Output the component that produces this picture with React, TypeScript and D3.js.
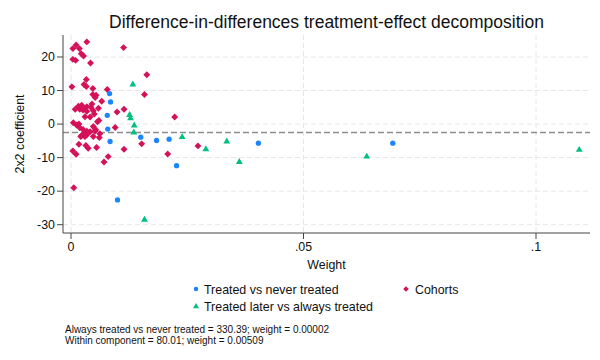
import React from 'react';
import * as d3 from 'd3';

// 2x2 estimates
const tvnWeight = [0.0083, 0.0085, 0.0078, 0.0079, 0.0084, 0.015, 0.0184, 0.0211, 0.0227, 0.01, 0.0403, 0.0692];
const tvnEstimate = [9.1, 6.6, 2.6, -1.5, -5.2, -3.9, -4.9, -4.5, -12.4, -22.6, -5.7, -5.7];

const tlaWeight = [0.0133, 0.0126, 0.0128, 0.0136, 0.0135, 0.0158, 0.0239, 0.029, 0.0335, 0.0362, 0.0636, 0.1093];
const tlaEstimate = [11.8, 2.7, 1.7, -0.4, -2.5, -28.5, -3.9, -7.5, -5.2, -11.3, -9.7, -7.7];

const cohortWeight = [
  0.0034, 0.0011, 0.0004, 0.0018, 0.0022, 0.0027, 0.0004, 0.001, 0.0042, 0.0113, 0.0163, 0.0158,
  0.0033, 0.0028, 0.0033, 0.0002, 0.0047, 0.0078, 0.0047, 0.0054, 0.0052, 0.0066, 0.0045, 0.0059,
  0.0043, 0.0034, 0.0023, 0.0016, 0.0009, 0.0019, 0.0026, 0.003, 0.0034, 0.0048, 0.005, 0.003,
  0.0041, 0.006, 0.0099, 0.0114, 0.0223, 0.0005, 0.0012, 0.0017, 0.0019, 0.0026, 0.0034, 0.0041,
  0.003, 0.0052, 0.0062, 0.0048, 0.0057, 0.0034, 0.0023, 0.0021, 0.003, 0.0048, 0.0061, 0.0095,
  0.0152, 0.0114, 0.0208, 0.0273, 0.0017, 0.0032, 0.0037, 0.0055, 0.0004, 0.0011, 0.008, 0.0071,
  0.0006, 0.0053,
];
const cohortEstimate = [
  24.5, 23.6, 22.5, 22.5, 21.0, 20.3, 19.3, 19.0, 18.2, 22.8, 14.7, 8.8,
  13.3, 11.8, 11.2, 11.1, 10.6, 10.3, 8.8, 8.6, 7.9, 6.8, 6.0, 4.7,
  5.0, 5.2, 5.6, 5.3, 4.4, 4.4, 4.2, 4.6, 3.8, 4.0, 3.0, 2.2,
  2.1, 1.1, 3.6, 4.4, 2.1, 0.4, -0.3, 0.0, -1.1, -1.6, -2.1, -2.3,
  -2.6, -2.1, -2.9, -0.7, 0.7, -3.2, -3.4, -3.7, -3.7, -3.7, -4.0, -1.0,
  -5.9, -7.5, -8.9, -6.5, -6.0, -6.4, -7.2, -7.0, -8.0, -9.0, -9.7, -11.3,
  -19.0, -1.7,
];

const overallEstimate = -2.5;
const xTicks = [0, 0.05, 0.1];
const xTickLabels = ['0', '.05', '.1'];
const yTicks = [-30, -20, -10, 0, 10, 20];

const notes = [
  'Always treated vs never treated = 330.39; weight = 0.00002',
  'Within component = 80.01; weight = 0.00509',
];

const BLUE = '#1a85ff';
const RED = '#d41159';
const GREEN = '#00bf7f';
const FONT = '"Liberation Sans", Arial, Helvetica, sans-serif';

const diamond = d3.symbol().type(d3.symbolSquare).size(24)();
const circle = d3.symbol().type(d3.symbolCircle).size(22)();
const triangle = d3.symbol().type(d3.symbolTriangle).size(20)();
const legendCircle = d3.symbol().type(d3.symbolCircle).size(16)();
const legendDiamond = d3.symbol().type(d3.symbolSquare).size(16)();
const legendTriangle = d3.symbol().type(d3.symbolTriangle).size(15)();

export default function App() {
  const left = 63, right = 590, top = 35, bottom = 233;
  const x = d3.scaleLinear().domain([0, 0.1]).range([71, 536]);
  const y = d3.scaleLinear().domain([-30, 20]).range([224.7, 57]);

  return (
    <svg width={600} height={360} style={{ position: 'absolute', left: 0, top: 0, background: '#fff' }} fontFamily={FONT}>
      <rect width={600} height={360} fill="#fff" />
      <text x={(left + right) / 2} y={28} textAnchor="middle" fontSize={17.5} fill="#111">
        Difference-in-differences treatment-effect decomposition
      </text>

      {/* grid */}
      {yTicks.map((t) => (
        <line key={'gy' + t} x1={left} x2={right} y1={y(t)} y2={y(t)} stroke="#e6e6e6" strokeDasharray="5,3" />
      ))}
      {xTicks.map((t) => (
        <line key={'gx' + t} x1={x(t)} x2={x(t)} y1={top} y2={bottom} stroke="#e6e6e6" strokeDasharray="5,3" />
      ))}

      <line x1={left} x2={right} y1={y(overallEstimate)} y2={y(overallEstimate)} stroke="#8c8c8c" strokeWidth={1.4} strokeDasharray="6,3" />

      {/* axes */}
      <line x1={left} x2={left} y1={top} y2={bottom} stroke="#444" />
      <line x1={left} x2={right} y1={bottom} y2={bottom} stroke="#444" />
      {yTicks.map((t) => (
        <g key={'yt' + t}>
          <line x1={left - 6} x2={left} y1={y(t)} y2={y(t)} stroke="#444" />
          <text x={left - 8} y={y(t) + 4.3} textAnchor="end" fontSize={12.4} fill="#111">{t}</text>
        </g>
      ))}
      {xTicks.map((t, i) => (
        <g key={'xt' + t}>
          <line x1={x(t)} x2={x(t)} y1={bottom} y2={bottom + 6} stroke="#444" />
          <text x={x(t)} y={251} textAnchor="middle" fontSize={12.4} fill="#111">{xTickLabels[i]}</text>
        </g>
      ))}
      <text x={(left + right) / 2} y={268.5} textAnchor="middle" fontSize={12.4} fill="#111">Weight</text>
      <text transform={`translate(24,${(top + bottom) / 2}) rotate(-90)`} textAnchor="middle" fontSize={12.4} fill="#111">
        2x2 coefficient
      </text>

      {/* marks */}
      {cohortWeight.map((w, i) => (
        <path key={'c' + i} d={diamond} transform={`translate(${x(w)},${y(cohortEstimate[i])}) rotate(45)`} fill={RED} />
      ))}
      {tvnWeight.map((w, i) => (
        <path key={'b' + i} d={circle} transform={`translate(${x(w)},${y(tvnEstimate[i])})`} fill={BLUE} />
      ))}
      {tlaWeight.map((w, i) => (
        <path key={'g' + i} d={triangle} transform={`translate(${x(w)},${y(tlaEstimate[i])})`} fill={GREEN} />
      ))}

      {/* legend */}
      <path d={legendCircle} transform="translate(196,289)" fill={BLUE} />
      <text x={204} y={293.5} fontSize={12.4} fill="#111">Treated vs never treated</text>
      <path d={legendDiamond} transform="translate(406,289) rotate(45)" fill={RED} />
      <text x={415} y={293.5} fontSize={12.4} fill="#111">Cohorts</text>
      <path d={legendTriangle} transform="translate(196,306.5)" fill={GREEN} />
      <text x={204} y={311} fontSize={12.4} fill="#111">Treated later vs always treated</text>

      {notes.map((n, i) => (
        <text key={'n' + i} x={65} y={333 + i * 10.5} fontSize={10} fill="#111">{n}</text>
      ))}
    </svg>
  );
}
